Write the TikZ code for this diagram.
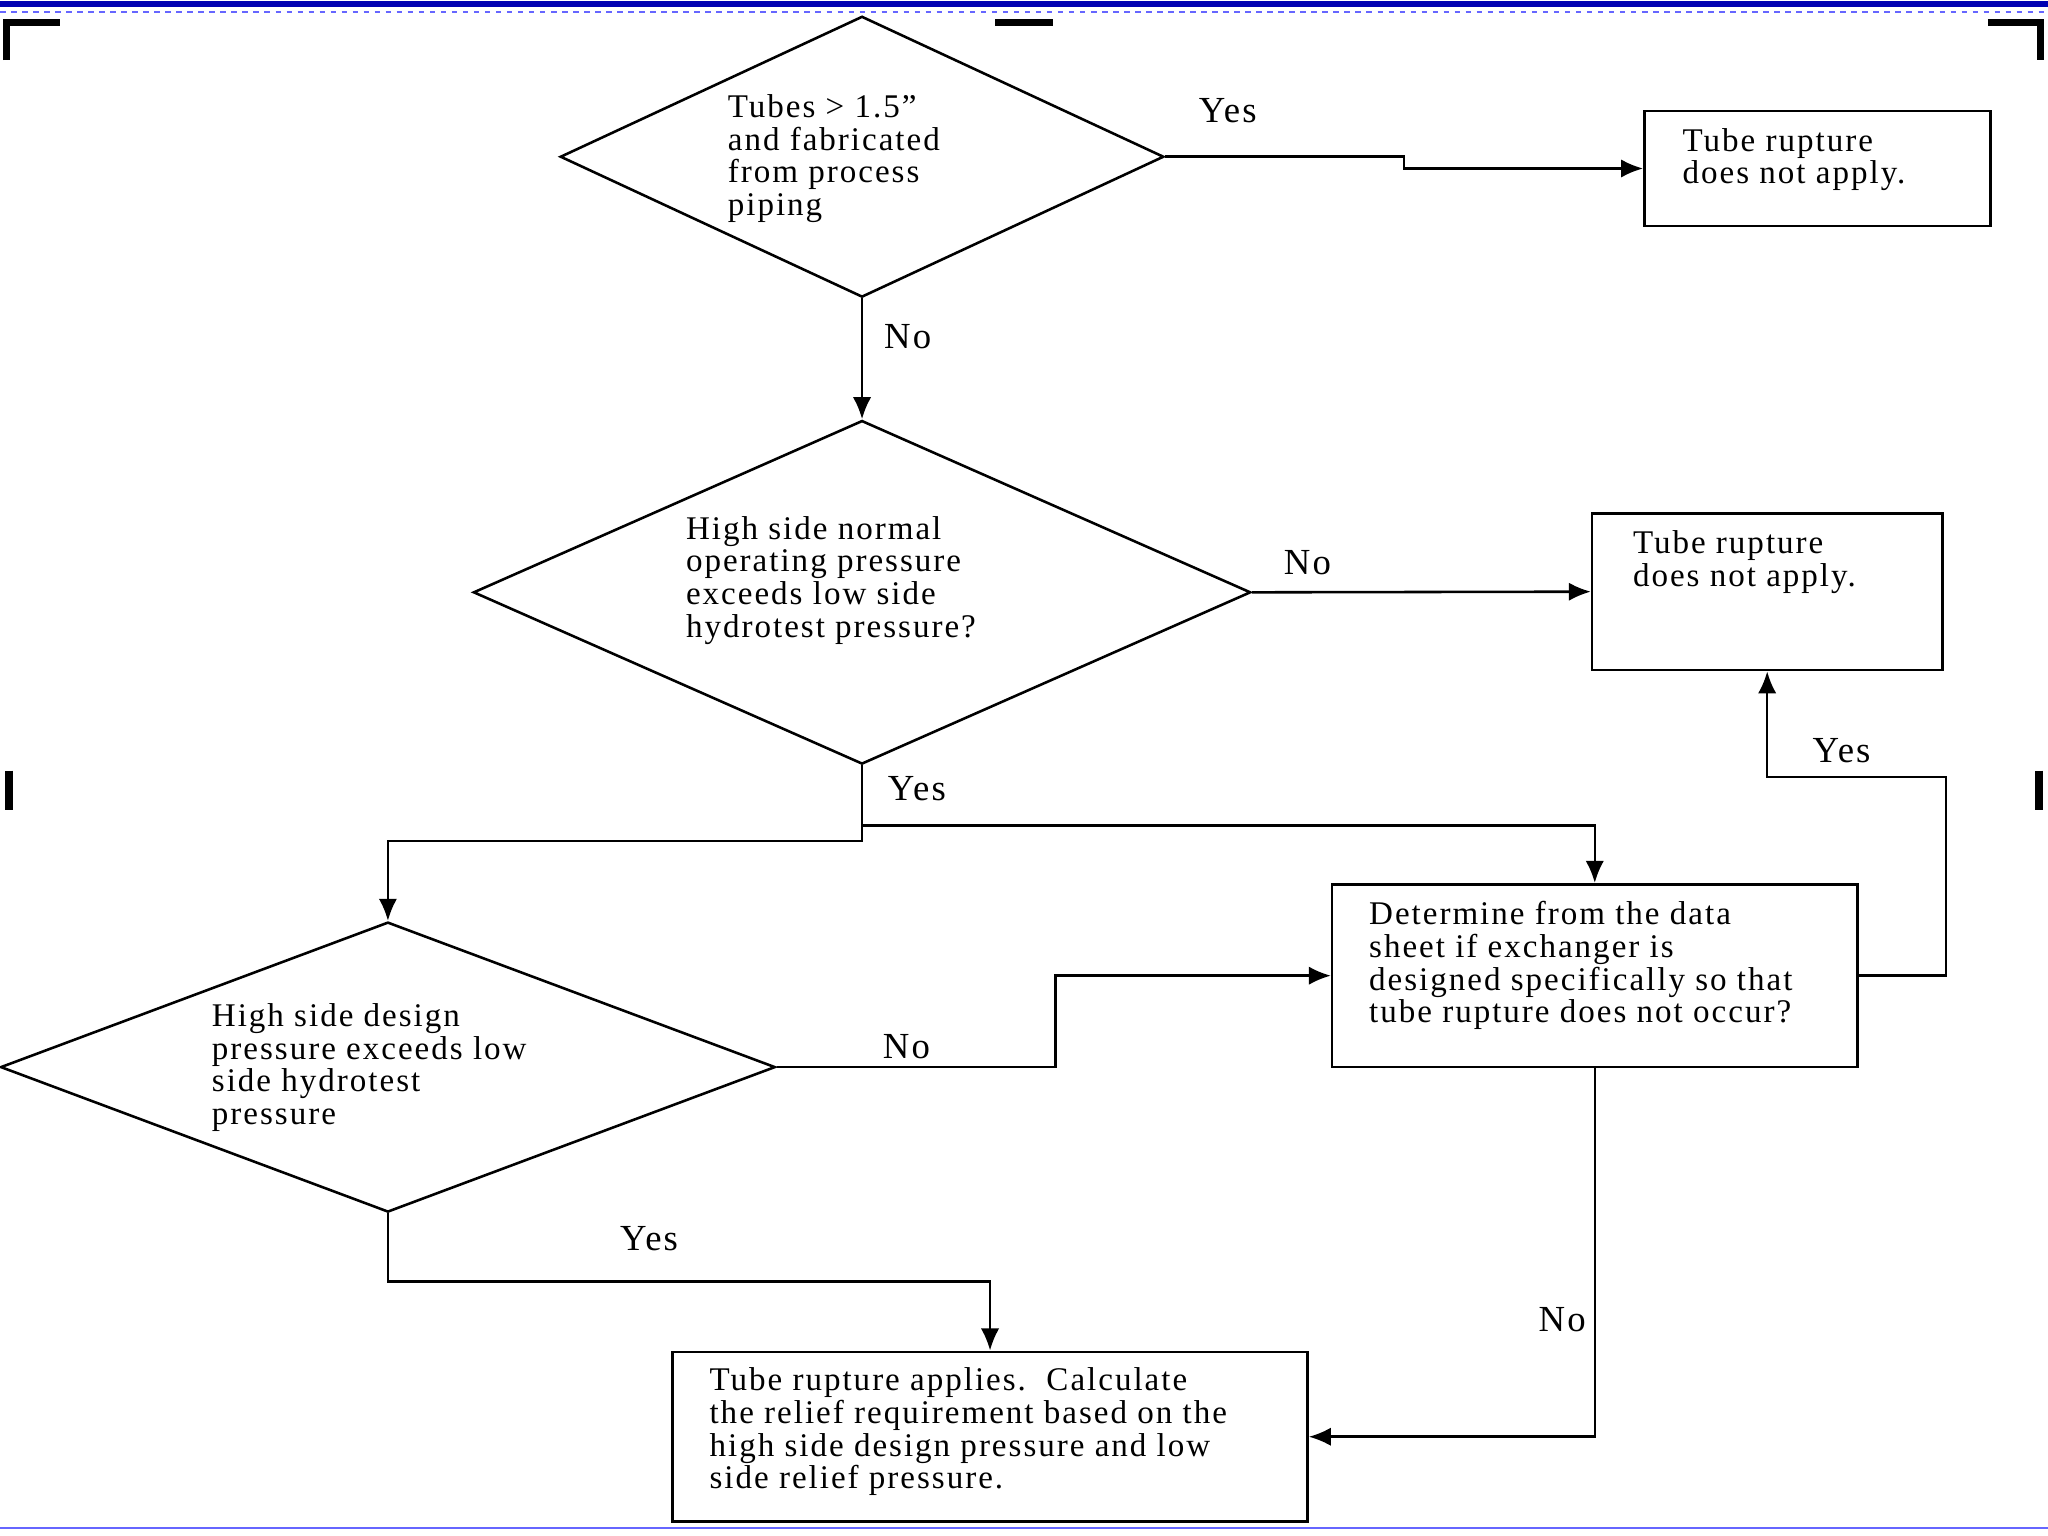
\documentclass[tikz,border=0pt]{standalone}
\usepackage{fontspec}
\setmainfont{Liberation Serif}[LetterSpace=6]
\usetikzlibrary{shapes.geometric,arrows.meta}
\begin{document}
\begin{tikzpicture}[x=0.025cm,y=-0.025cm,
  ln/.style={line width=1.4pt},
  arr/.style={ln,-{Latex[length=12pt,width=10pt]}},
  dia/.style={draw,diamond,ln,inner sep=0pt},
  box/.style={draw,rectangle,ln,inner sep=0pt},
  txt/.style={anchor=north west,align=left,inner sep=0pt,font=\fontsize{18}{17.8}\selectfont},
  lbl/.style={inner sep=0pt,font=\fontsize{20}{20}\selectfont}]
\useasboundingbox (0,0) rectangle (1568,1176);
% frame marks
\draw[blue!70!black,line width=3pt] (0,3) -- (1568,3);
\draw[blue!60,dashed,line width=1pt] (0,9) -- (1568,9);
\draw[blue!60,line width=1pt] (0,1170) -- (1568,1170);
\draw[line width=4pt] (5,46) -- (5,17) -- (46,17);
\draw[line width=4pt] (1522,17) -- (1562,17) -- (1562,46);
\draw[line width=4pt] (762,17) -- (806,17);
\draw[line width=4pt] (7,590) -- (7,620);
\draw[line width=4pt] (1561,590) -- (1561,620);
% shapes
\node[dia,minimum width=11.55cm,minimum height=5.375cm] (d1) at (660,120) {};
\node[dia,minimum width=14.875cm,minimum height=6.575cm] (d2) at (660,453.5) {};
\node[dia,minimum width=14.825cm,minimum height=5.55cm] (d3) at (297,817) {};
\node[box,minimum width=6.625cm,minimum height=2.2cm] (b1) at (1391.5,129) {};
\node[box,minimum width=6.7cm,minimum height=3cm] (b2) at (1353,453) {};
\node[box,minimum width=10.05cm,minimum height=3.5cm] (b3) at (1221,747) {};
\node[box,minimum width=12.15cm,minimum height=3.25cm] (b4) at (758,1100) {};
% texts
\node[txt] (t1) at (557,72) {Tubes > 1.5”\\and fabricated\\from process\\piping};
\node[txt] (t2) at (525,395) {High side normal\\operating pressure\\exceeds low side\\hydrotest pressure?};
\node[txt] (t3) at (162,768) {High side design\\pressure exceeds low\\side hydrotest\\pressure};
\node[txt] (tb1) at (1288,98) {Tube rupture\\does not apply.};
\node[txt] (tb2) at (1250,406) {Tube rupture\\does not apply.};
\node[txt] (tb3) at (1048,690) {Determine from the data\\sheet if exchanger is\\designed specifically so that\\tube rupture does not occur?};
\node[txt] (tb4) at (543,1047) {Tube rupture applies.~~Calculate\\the relief requirement based on the\\high side design pressure and low\\side relief pressure.};
% connectors
\coordinate (c1) at (1075,120);
\draw[arr] (d1.east) -- (c1) |- (b1.west);
\draw[arr] (d1.south) -- (d2.north);
\draw[arr] (d2.east) -- (b2.west);
\coordinate (c2) at (660,644);
\coordinate (c3) at (660,632);
\draw[arr] (d2.south) -- (c2) -| (d3.north);
\draw[arr] (c3) -| (b3.north);
\coordinate (c4) at (808,817);
\draw[arr] (d3.east) -- (c4) |- (b3.west);
\coordinate (c5) at (1490,747);
\coordinate (c6) at (1490,595);
\draw[arr] (b3.east) -- (c5) -- (c6) -| (b2.south);
\coordinate (c7) at (297,981);
\draw[arr] (d3.south) -- (c7) -| (b4.north);
\draw[arr] (b3.south) |- (b4.east);
% labels
\node[lbl] (l1) at (940,85) {Yes};
\node[lbl] (l2) at (695,258) {No};
\node[lbl] (l3) at (1001,431) {No};
\node[lbl] (l4) at (702,604) {Yes};
\node[lbl] (l5) at (694,801) {No};
\node[lbl] (l6) at (1410,575) {Yes};
\node[lbl] (l7) at (497,948) {Yes};
\node[lbl] (l8) at (1196,1010) {No};
\end{tikzpicture}
\end{document}
